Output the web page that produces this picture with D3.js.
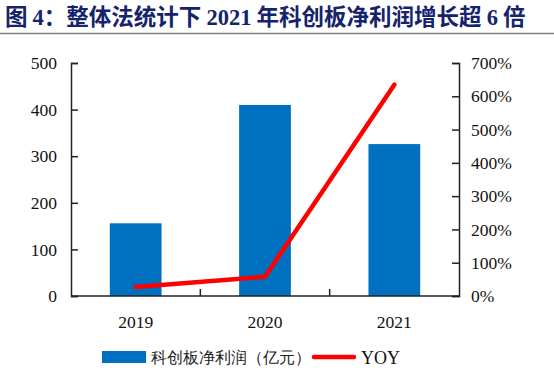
<!DOCTYPE html>
<html>
<head>
<meta charset="utf-8">
<script src="https://cdn.jsdelivr.net/npm/d3@7"></script>
<style>
  body { margin: 0; background: #fff; }
  svg text { font-family: "Liberation Serif", "Times New Roman", serif; }
</style>
</head>
<body>
<svg width="554" height="376"></svg>
<script>
var years = ["2019", "2020", "2021"];
var profit = [156, 410, 326];      // 科创板净利润（亿元）
var yoy = [27, 58, 635];           // YOY, %
var leftTicks = [0, 100, 200, 300, 400, 500];
var rightTicks = [0, 100, 200, 300, 400, 500, 600, 700];

var svg = d3.select("svg"),
    margin = {top: 63, right: 95, bottom: 80, left: 71},
    width = +svg.attr("width") - margin.left - margin.right,
    height = +svg.attr("height") - margin.top - margin.bottom;

// title
var title = svg.append("text")
    .attr("x", 5)
    .attr("y", 25)
    .attr("fill", "#14236b")
    .attr("font-weight", "bold")
    .attr("font-size", 22.5);
title.append("tspan").attr("font-family", "Noto Sans CJK SC").text("图 ");
title.append("tspan").text("4");
title.append("tspan").attr("font-family", "Noto Sans CJK SC").text("：整体法统计下 ");
title.append("tspan").text("2021");
title.append("tspan").attr("font-family", "Noto Sans CJK SC").text(" 年科创板净利润增长超 ");
title.append("tspan").text("6");
title.append("tspan").attr("font-family", "Noto Sans CJK SC").text(" 倍");

svg.append("line")
    .attr("x1", 0).attr("x2", 554)
    .attr("y1", 33.5).attr("y2", 33.5)
    .attr("stroke", "#7f7f7f")
    .attr("stroke-width", 1.5);

var g = svg.append("g").attr("transform", "translate(" + margin.left + "," + margin.top + ")");

var x = d3.scaleBand()
    .domain(years)
    .range([0, width])
    .paddingInner(0.6)
    .paddingOuter(0.3);

var y = d3.scaleLinear().domain([0, 500]).range([height, 0]);
var y2 = d3.scaleLinear().domain([0, 700]).range([height, 0]);

// bars
g.selectAll(".bar")
    .data(profit)
  .enter().append("rect")
    .attr("class", "bar")
    .attr("x", function(d, i) { return x(years[i]); })
    .attr("y", function(d) { return y(d); })
    .attr("width", x.bandwidth())
    .attr("height", function(d) { return height - y(d); })
    .attr("fill", "#0070c0");

// axes
function styleAxis(sel) {
  sel.select(".domain").attr("stroke", "#222").attr("stroke-width", 1.5);
  sel.selectAll(".tick line").attr("stroke", "#222").attr("stroke-width", 1.5);
  sel.selectAll(".tick text").attr("fill", "#111").attr("font-size", 17.5)
     .attr("font-family", "Liberation Serif");
}

g.append("g")
    .call(d3.axisLeft(y).tickValues(leftTicks).tickSizeInner(-7).tickSizeOuter(-7).tickPadding(14))
    .call(styleAxis);

g.append("g")
    .attr("transform", "translate(" + width + ",0)")
    .call(d3.axisRight(y2).tickValues(rightTicks).tickSizeInner(-7).tickSizeOuter(-7).tickPadding(12)
      .tickFormat(function(d) { return d + "%"; }))
    .call(styleAxis);

// x axis: ticks at category boundaries
var xAxis = g.append("g").attr("transform", "translate(0," + height + ")");
xAxis.append("line")
    .attr("x1", 0).attr("x2", width)
    .attr("stroke", "#222").attr("stroke-width", 1.5);
xAxis.selectAll(".sep")
    .data(years.slice(1))
  .enter().append("line")
    .attr("x1", function(d) { return x(d) - x.step() * x.paddingInner() / 2; })
    .attr("x2", function(d) { return x(d) - x.step() * x.paddingInner() / 2; })
    .attr("y1", 0).attr("y2", -7)
    .attr("stroke", "#222").attr("stroke-width", 1.5);
xAxis.selectAll(".lbl")
    .data(years)
  .enter().append("text")
    .attr("x", function(d) { return x(d) + x.bandwidth() / 2; })
    .attr("y", 32)
    .attr("text-anchor", "middle")
    .attr("font-size", 17.5)
    .attr("fill", "#111")
    .text(function(d) { return d; });

// YOY line
var line = d3.line()
    .x(function(d, i) { return x(years[i]) + x.bandwidth() / 2; })
    .y(function(d) { return y2(d); });

g.append("path")
    .datum(yoy)
    .attr("d", line)
    .attr("fill", "none")
    .attr("stroke", "#ff0000")
    .attr("stroke-width", 4.5)
    .attr("stroke-linecap", "round")
    .attr("stroke-linejoin", "round");

// legend
var leg = svg.append("g").attr("transform", "translate(0,357)");
leg.append("rect")
    .attr("x", 102).attr("y", -6)
    .attr("width", 44).attr("height", 12)
    .attr("fill", "#0070c0");
leg.append("text")
    .attr("x", 151).attr("y", 6)
    .attr("font-family", "Noto Sans CJK SC")
    .attr("font-size", 16)
    .attr("fill", "#222")
    .text("科创板净利润（亿元）");
leg.append("line")
    .attr("x1", 314).attr("x2", 354)
    .attr("stroke", "#ff0000").attr("stroke-width", 4.5)
    .attr("stroke-linecap", "round");
leg.append("text")
    .attr("x", 361).attr("y", 6.5)
    .attr("font-size", 18)
    .attr("fill", "#111")
    .text("YOY");
</script>
</body>
</html>
